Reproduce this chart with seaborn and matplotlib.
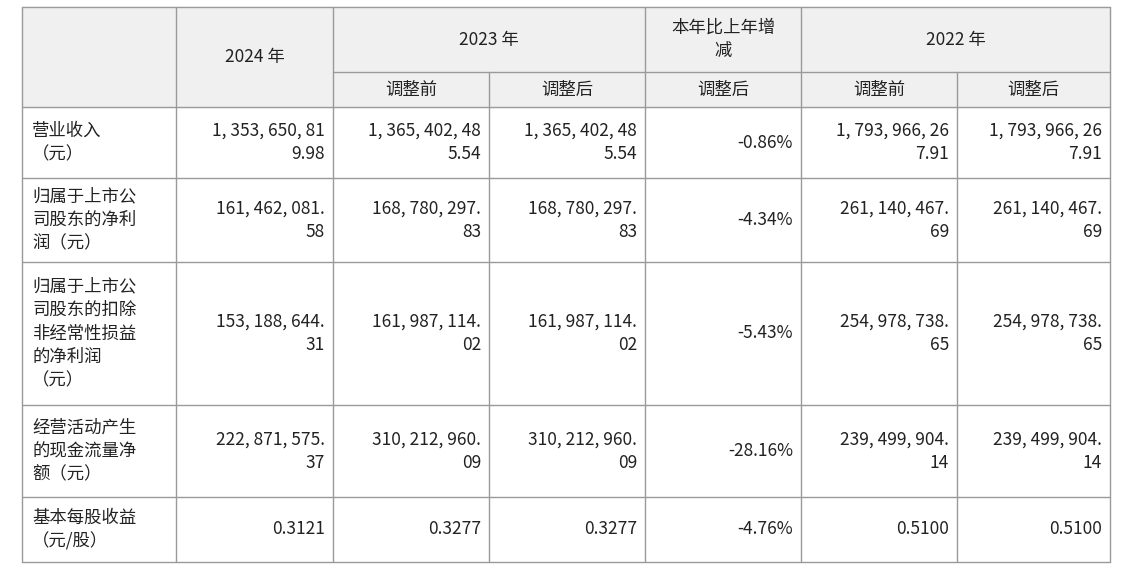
import seaborn as sns
from matplotlib import pyplot as plt

sns.set_theme(style="white", rc={"font.family": "Noto Sans CJK SC"})

header_top = ["2024 年", "2023 年", "本年比上年增\n减", "2022 年"]
header_sub = ["调整前", "调整后", "调整后", "调整前", "调整后"]
row_labels = [
    "营业收入\n（元）",
    "归属于上市公\n司股东的净利\n润（元）",
    "归属于上市公\n司股东的扣除\n非经常性损益\n的净利润\n（元）",
    "经营活动产生\n的现金流量净\n额（元）",
    "基本每股收益\n（元/股）",
]
col_2024 = ["1, 353, 650, 81\n9.98", "161, 462, 081.\n58", "153, 188, 644.\n31", "222, 871, 575.\n37", "0.3121"]
col_2023_before = ["1, 365, 402, 48\n5.54", "168, 780, 297.\n83", "161, 987, 114.\n02", "310, 212, 960.\n09", "0.3277"]
col_2023_after = ["1, 365, 402, 48\n5.54", "168, 780, 297.\n83", "161, 987, 114.\n02", "310, 212, 960.\n09", "0.3277"]
col_change = ["-0.86%", "-4.34%", "-5.43%", "-28.16%", "-4.76%"]
col_2022_before = ["1, 793, 966, 26\n7.91", "261, 140, 467.\n69", "254, 978, 738.\n65", "239, 499, 904.\n14", "0.5100"]
col_2022_after = ["1, 793, 966, 26\n7.91", "261, 140, 467.\n69", "254, 978, 738.\n65", "239, 499, 904.\n14", "0.5100"]

xs = [22, 176, 333, 489, 645, 801, 957, 1110]
ys = [7, 72, 107, 178, 262, 405, 497, 562]
line_c = "#9a9a9a"
head_bg = "#f0f0f0"
fs = 12.5
txt_c = "#222222"

fig = plt.figure(figsize=(11.26, 5.64), dpi=100)
ax = fig.add_axes([0, 0, 1, 1])
ax.set_xlim(0, 1126)
ax.set_ylim(564, 0)
ax.axis("off")

# header background
ax.fill_between([xs[0], xs[-1]], ys[0], ys[2], color=head_bg, zorder=0)

# grid lines
for y in [ys[0], ys[2], ys[3], ys[4], ys[5], ys[6], ys[7]]:
    ax.plot([xs[0], xs[-1]], [y, y], color=line_c, lw=1)
ax.plot([xs[2], xs[-1]], [ys[1], ys[1]], color=line_c, lw=1)
for i, x in enumerate(xs):
    if i in (3, 6):
        ax.plot([x, x], [ys[1], ys[-1]], color=line_c, lw=1)
    else:
        ax.plot([x, x], [ys[0], ys[-1]], color=line_c, lw=1)

# top header
spans = [(1, 2), (2, 4), (4, 5), (5, 7)]
for (a, b), t in zip(spans, header_top):
    yc = (ys[0] + ys[2]) / 2 if a == 1 else (ys[0] + ys[1]) / 2
    ax.text((xs[a] + xs[b]) / 2, yc, t, ha="center", va="center", fontsize=fs,
            color=txt_c, linespacing=1.4)
for i, t in enumerate(header_sub):
    ax.text((xs[i + 2] + xs[i + 3]) / 2, (ys[1] + ys[2]) / 2, t, ha="center",
            va="center", fontsize=fs, color=txt_c)

cols = [col_2024, col_2023_before, col_2023_after, col_change, col_2022_before, col_2022_after]
for r, label in enumerate(row_labels):
    yc = (ys[r + 2] + ys[r + 3]) / 2
    ax.text(xs[0] + 10, yc, label, ha="left", va="center", fontsize=fs,
            color=txt_c, linespacing=1.4)
    for c, col in enumerate(cols):
        ax.text(xs[c + 2] - 8, yc, col[r], ha="right", va="center", fontsize=fs,
                color=txt_c, linespacing=1.4, multialignment="right")

fig.savefig("out.png", dpi=100, facecolor="white")
